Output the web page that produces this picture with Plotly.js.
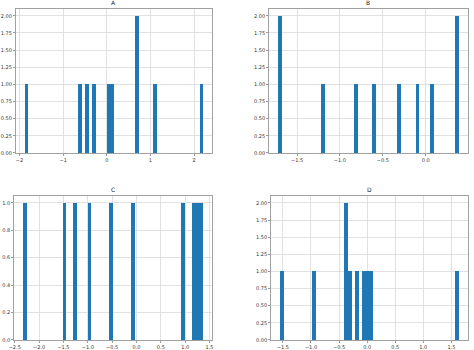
<!DOCTYPE html>
<html>
<head>
<meta charset="utf-8">
<script src="https://cdn.plot.ly/plotly-3.0.1.min.js"></script>
<style>html,body{margin:0;padding:0;background:#fff;}#chart{width:474px;height:350px;}</style>
</head>
<body>
<div id="chart"></div>
<script>
// Column values (10 samples per column)
const columnNames = ["A", "B", "C", "D"];
const valuesA = [-1.883, -0.615, -0.452, -0.288, 0.039, 0.121, 0.672, 0.718, 1.103, 2.206];
const valuesB = [-1.722, -1.700, -1.195, -0.815, -0.604, -0.308, -0.097, 0.072, 0.370, 0.388];
const valuesC = [-2.331, -1.481, -1.259, -0.964, -0.520, -0.076, 0.958, 1.180, 1.254, 1.366];
const valuesD = [-1.553, -0.947, -0.390, -0.360, -0.309, -0.182, -0.055, 0.009, 0.073, 1.636];
const binCount = 50;

const allValues = [valuesA, valuesB, valuesC, valuesD];

// numpy-style histogram (last bin closed)
function histogram(vals, nb) {
  const lo = Math.min(...vals), hi = Math.max(...vals);
  const w = (hi - lo) / nb;
  const counts = new Array(nb).fill(0);
  vals.forEach(v => {
    let k = Math.floor((v - lo) / w);
    if (k >= nb) k = nb - 1;
    if (k < 0) k = 0;
    counts[k] += 1;
  });
  const centers = counts.map((_, i) => lo + (i + 0.5) * w);
  return {lo, hi, w, counts, centers};
}

const xDomains = [[0.0331, 0.4473], [0.5675, 0.9873], [0.0295, 0.4473], [0.5717, 0.9873]];
const yDomains = [[0.5629, 0.9743], [0.5629, 0.9743], [0.0286, 0.44], [0.0286, 0.44]];
const xDtick = [1, 0.5, 0.5, 0.5];
const xFormat = ["d", ".1f", ".1f", ".1f"];
const yDtick = [0.25, 0.25, 0.2, 0.25];
const yFormat = [".2f", ".2f", ".1f", ".2f"];

const traces = [];
const layout = {
  width: 474, height: 350,
  margin: {l: 0, r: 0, t: 0, b: 0},
  paper_bgcolor: "#ffffff",
  plot_bgcolor: "#ffffff",
  showlegend: false,
  bargap: 0,
  font: {family: "DejaVu Sans", size: 5, color: "#222"},
  annotations: []
};

allValues.forEach((vals, i) => {
  const h = histogram(vals, binCount);
  const n = i + 1;
  const xa = "x" + (n === 1 ? "" : n), ya = "y" + (n === 1 ? "" : n);
  traces.push({
    type: "bar",
    x: h.centers,
    y: h.counts,
    width: h.w,
    marker: {color: "#1f77b4", line: {width: 0}},
    xaxis: "x" + n, yaxis: "y" + n,
    hoverinfo: "x+y"
  });
  const span = h.hi - h.lo;
  const maxCount = Math.max(...h.counts);
  const axisCommon = {
    showgrid: true, gridcolor: "#d9d9d9", gridwidth: 0.8,
    zeroline: false,
    showline: true, linecolor: "#8a8a8a", linewidth: 0.8, mirror: true,
    ticks: "outside", ticklen: 2, tickwidth: 0.6, tickcolor: "#555",
    tickfont: {family: "DejaVu Sans", size: 5, color: "#333"}
  };
  layout[xa.replace("x", "xaxis")] = Object.assign({}, axisCommon, {
    domain: xDomains[i], anchor: "y" + n,
    range: [h.lo - 0.05 * span, h.hi + 0.05 * span],
    dtick: xDtick[i], tick0: 0, tickformat: xFormat[i]
  });
  layout[ya.replace("y", "yaxis")] = Object.assign({}, axisCommon, {
    domain: yDomains[i], anchor: "x" + n,
    range: [0, maxCount * 1.05],
    dtick: yDtick[i], tick0: 0, tickformat: yFormat[i]
  });
  layout.annotations.push({
    text: columnNames[i],
    xref: "paper", yref: "paper",
    x: (xDomains[i][0] + xDomains[i][1]) / 2,
    y: yDomains[i][1],
    xanchor: "center", yanchor: "bottom", yshift: 1,
    showarrow: false,
    font: {family: "DejaVu Sans", size: 6, color: "#222"}
  });
});

Plotly.newPlot("chart", traces, layout, {staticPlot: true, displayModeBar: false});
</script>
</body>
</html>
